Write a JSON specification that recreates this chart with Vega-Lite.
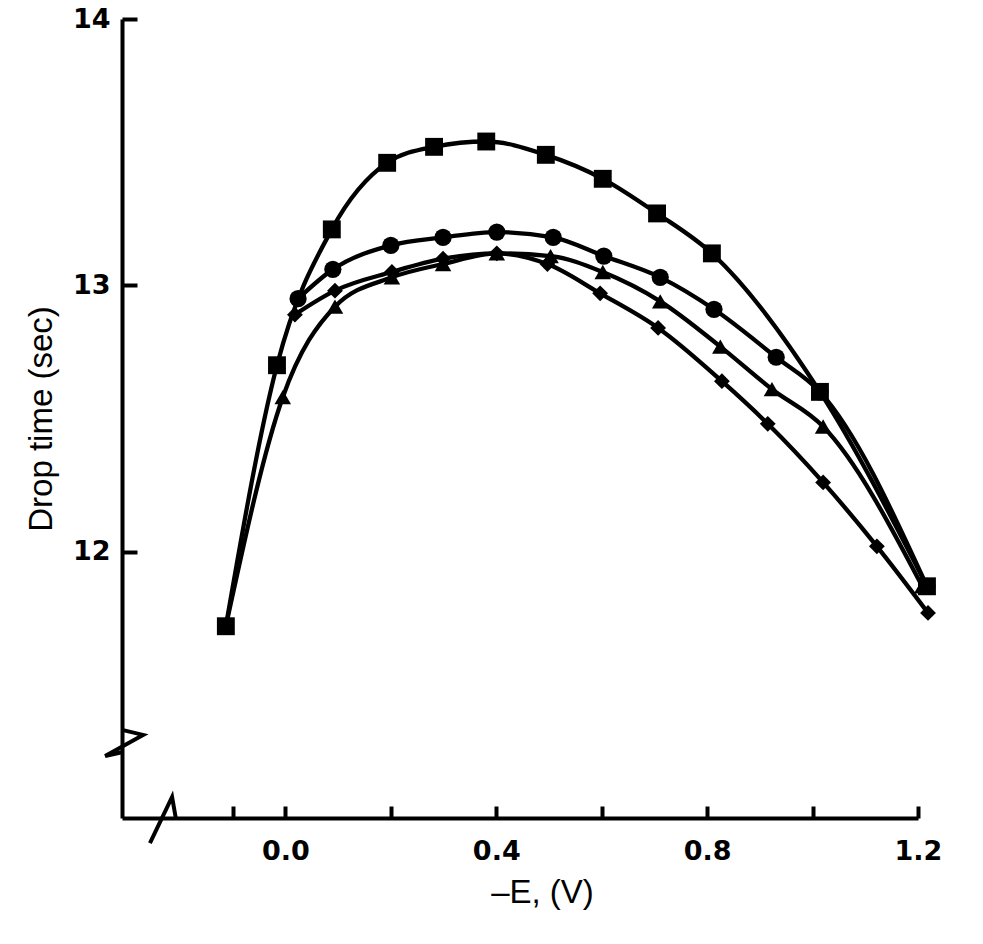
{
  "$schema": "https://vega.github.io/schema/vega-lite/v6.json",
  "width": 796,
  "height": 799,
  "autosize": "none",
  "padding": {"left": 122, "top": 19, "right": 65, "bottom": 126},
  "background": "white",
  "config": {
    "view": {"stroke": null},
    "axis": {
      "domainColor": "black", "domainWidth": 4, "tickColor": "black", "tickWidth": 4,
      "grid": false, "labelColor": "black", "titleColor": "black",
      "labelFont": "DejaVu Sans", "labelFontWeight": "bold", "labelFontSize": 27,
      "titleFont": "Liberation Sans", "titleFontWeight": "normal", "titleFontSize": 33
    }
  },
  "datasets": {
    "series": [
      {"series": "square", "E": -0.113, "t": 11.72},
      {"series": "square", "E": -0.016, "t": 12.70},
      {"series": "square", "E": 0.088, "t": 13.21},
      {"series": "square", "E": 0.193, "t": 13.46},
      {"series": "square", "E": 0.282, "t": 13.52},
      {"series": "square", "E": 0.381, "t": 13.54},
      {"series": "square", "E": 0.494, "t": 13.49},
      {"series": "square", "E": 0.602, "t": 13.40},
      {"series": "square", "E": 0.705, "t": 13.27},
      {"series": "square", "E": 0.809, "t": 13.12},
      {"series": "square", "E": 1.014, "t": 12.60},
      {"series": "square", "E": 1.217, "t": 11.87},
      {"series": "circle", "E": 0.024, "t": 12.95},
      {"series": "circle", "E": 0.090, "t": 13.06},
      {"series": "circle", "E": 0.200, "t": 13.15},
      {"series": "circle", "E": 0.299, "t": 13.18},
      {"series": "circle", "E": 0.401, "t": 13.20},
      {"series": "circle", "E": 0.508, "t": 13.18},
      {"series": "circle", "E": 0.604, "t": 13.11},
      {"series": "circle", "E": 0.711, "t": 13.03},
      {"series": "circle", "E": 0.813, "t": 12.91},
      {"series": "circle", "E": 0.931, "t": 12.73},
      {"series": "circle", "E": 1.014, "t": 12.60},
      {"series": "circle", "E": 1.217, "t": 11.87},
      {"series": "triangle", "E": -0.113, "t": 11.72},
      {"series": "triangle", "E": -0.005, "t": 12.58},
      {"series": "triangle", "E": 0.094, "t": 12.92},
      {"series": "triangle", "E": 0.202, "t": 13.03},
      {"series": "triangle", "E": 0.299, "t": 13.08},
      {"series": "triangle", "E": 0.401, "t": 13.12},
      {"series": "triangle", "E": 0.503, "t": 13.11},
      {"series": "triangle", "E": 0.602, "t": 13.05},
      {"series": "triangle", "E": 0.711, "t": 12.94},
      {"series": "triangle", "E": 0.825, "t": 12.77},
      {"series": "triangle", "E": 0.923, "t": 12.61},
      {"series": "triangle", "E": 1.020, "t": 12.47},
      {"series": "triangle", "E": 1.208, "t": 11.87},
      {"series": "diamond", "E": 0.018, "t": 12.89},
      {"series": "diamond", "E": 0.094, "t": 12.98},
      {"series": "diamond", "E": 0.202, "t": 13.05},
      {"series": "diamond", "E": 0.299, "t": 13.10},
      {"series": "diamond", "E": 0.401, "t": 13.12},
      {"series": "diamond", "E": 0.497, "t": 13.08},
      {"series": "diamond", "E": 0.597, "t": 12.97},
      {"series": "diamond", "E": 0.707, "t": 12.84},
      {"series": "diamond", "E": 0.828, "t": 12.64},
      {"series": "diamond", "E": 0.915, "t": 12.48},
      {"series": "diamond", "E": 1.020, "t": 12.26},
      {"series": "diamond", "E": 1.122, "t": 12.02},
      {"series": "diamond", "E": 1.219, "t": 11.77}
    ],
    "breaks": [
      {"id": "yb", "k": 0, "E": -0.308, "t": 11.33},
      {"id": "yb", "k": 1, "E": -0.270, "t": 11.312},
      {"id": "yb", "k": 2, "E": -0.342, "t": 11.233},
      {"id": "yb", "k": 3, "E": -0.308, "t": 11.248},
      {"id": "xb", "k": 0, "E": -0.257, "t": 10.906},
      {"id": "xb", "k": 1, "E": -0.215, "t": 11.079},
      {"id": "xb", "k": 2, "E": -0.208, "t": 11.0}
    ]
  },
  "layer": [
    {
      "data": {"name": "series"},
      "mark": {"type": "line", "interpolate": "monotone", "color": "black", "strokeWidth": 4.3},
      "encoding": {
        "x": {"field": "E", "type": "quantitative",
          "scale": {"domain": [-0.31, 1.2], "nice": false, "zero": false},
          "axis": {
            "values": [-0.1, 0, 0.2, 0.4, 0.6, 0.8, 1, 1.2],
            "labelExpr": "(datum.value == 0 || datum.value == 0.4 || datum.value == 0.8 || datum.value == 1.2) ? format(datum.value, '.1f') : ''",
            "tickSize": -12, "labelPadding": 32, "labelFlush": false, "labelOverlap": false,
            "title": "–E, (V)", "titlePadding": 12, "titleX": 420
          }},
        "y": {"field": "t", "type": "quantitative",
          "scale": {"domain": [11, 14], "nice": false, "zero": false},
          "axis": {
            "values": [12, 13, 14], "format": "d",
            "tickSize": -15, "labelPadding": 27, "labelFlush": false,
            "title": "Drop time (sec)", "titlePadding": 14
          }},
        "detail": {"field": "series"}
      }
    },
    {
      "data": {"name": "series"},
      "mark": {"type": "point", "filled": true, "color": "black", "opacity": 1, "strokeWidth": 0},
      "encoding": {
        "x": {"field": "E", "type": "quantitative", "scale": {"domain": [-0.31, 1.2], "nice": false, "zero": false}},
        "y": {"field": "t", "type": "quantitative", "scale": {"domain": [11, 14], "nice": false, "zero": false}},
        "shape": {"field": "series", "type": "nominal",
          "scale": {"domain": ["square", "circle", "triangle", "diamond"], "range": ["square", "circle", "triangle-up", "diamond"]},
          "legend": null},
        "size": {"field": "series", "type": "nominal",
          "scale": {"domain": ["square", "circle", "triangle", "diamond"], "range": [320, 250, 270, 270]},
          "legend": null}
      }
    },
    {
      "data": {"name": "breaks"},
      "mark": {"type": "line", "color": "black", "strokeWidth": 4},
      "encoding": {
        "x": {"field": "E", "type": "quantitative", "scale": {"domain": [-0.31, 1.2], "nice": false, "zero": false}},
        "y": {"field": "t", "type": "quantitative", "scale": {"domain": [11, 14], "nice": false, "zero": false}},
        "detail": {"field": "id"},
        "order": {"field": "k"}
      }
    }
  ]
}
